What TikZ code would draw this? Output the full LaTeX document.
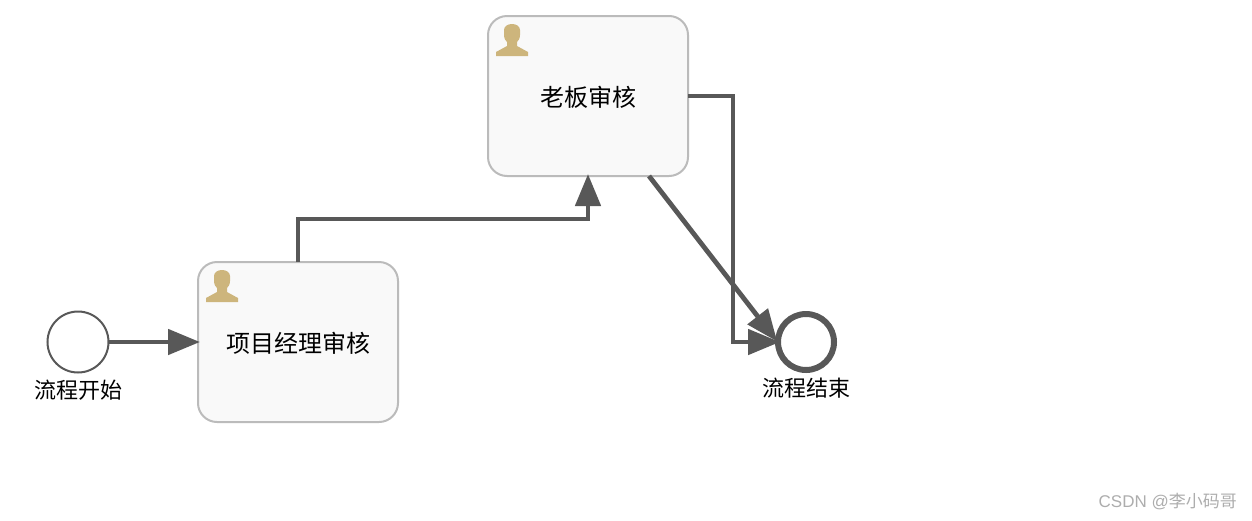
\documentclass[tikz,border=0pt]{standalone}
\usepackage{fontspec}
\setmainfont{Liberation Sans}
\newfontfamily\cjk{Noto Sans CJK SC}
\usetikzlibrary{arrows.meta,calc}
\definecolor{flow}{HTML}{585858}
\definecolor{taskline}{HTML}{BBBBBB}
\definecolor{taskfill}{HTML}{F9F9F9}
\definecolor{usericon}{HTML}{CDB57C}
\tikzset{
  x=1pt,y=-1pt,
  task/.style={draw=taskline,fill=taskfill,line width=2pt,rounded corners=19pt,minimum width=200pt,minimum height=160pt,inner sep=0pt,outer sep=0pt},
  startev/.style={circle,draw=flow,line width=2pt,fill=white,minimum size=61pt,inner sep=0pt,outer sep=0pt},
  endev/.style={circle,draw=flow,line width=6pt,fill=white,minimum size=56pt,inner sep=0pt,outer sep=0pt},
  lbl/.style={font=\cjk\fontsize{22}{26}\selectfont,inner sep=0pt},
  tasklbl/.style={font=\cjk\fontsize{24}{28}\selectfont,inner sep=0pt},
  flowline/.style={draw=flow,line width=4.8pt,shorten >=-2pt,-{Triangle[length=32pt,width=25pt,fill=flow]}},
  wm/.style={font=\fontsize{17}{21}\selectfont,text=black!32,inner sep=0pt}
}
\newcommand{\usershape}[2]{%
  \fill[usericon] ($(#1,#2)+(8,6)$) .. controls ($(#1,#2)+(8,-2)$) and ($(#1,#2)+(24,-2)$) .. ($(#1,#2)+(24,6)$)
    -- ($(#1,#2)+(24,11)$) .. controls ($(#1,#2)+(24,15)$) and ($(#1,#2)+(22,17)$) .. ($(#1,#2)+(21,18)$)
    -- ($(#1,#2)+(21,22)$) -- ($(#1,#2)+(32,28)$) -- ($(#1,#2)+(32,32)$) -- ($(#1,#2)+(0,32)$) -- ($(#1,#2)+(0,28)$)
    -- ($(#1,#2)+(11,22)$) -- ($(#1,#2)+(11,18)$) .. controls ($(#1,#2)+(10,17)$) and ($(#1,#2)+(8,15)$) .. ($(#1,#2)+(8,11)$) -- cycle;}
\begin{document}
\begin{tikzpicture}
\useasboundingbox (0,0) rectangle (1252,520);
\node[startev] (start) at (78,342) {};
\node[task] (pm) at (298,342) {};
\node[task] (boss) at (588,96) {};
\node[endev] (end) at (806,342) {};
\node[tasklbl] (pmt) at (298,343) {项目经理审核};
\node[tasklbl] (bosst) at (588,97) {老板审核};
\node[lbl] (startl) at (78,390) {流程开始};
\node[lbl] (endl) at (806,388) {流程结束};
\node[wm,anchor=east] (mark) at (1237,502) {CSDN @{\cjk 李小码哥}};
\usershape{206}{270}
\usershape{496}{24}
\coordinate (bend1) at (298,219);
\coordinate (bend2) at (733,96);
\coordinate (diagfrom) at (649,176);
\coordinate (diagto) at (776,340);
\draw[flowline] (start.east) -- (pm.west);
\draw[flowline] (pm.north) -- (bend1) -| (boss.south);
\draw[flowline] (diagfrom) -- (diagto);
\draw[flowline] (boss.east) -- (bend2) |- (end.west);
\end{tikzpicture}
\end{document}
